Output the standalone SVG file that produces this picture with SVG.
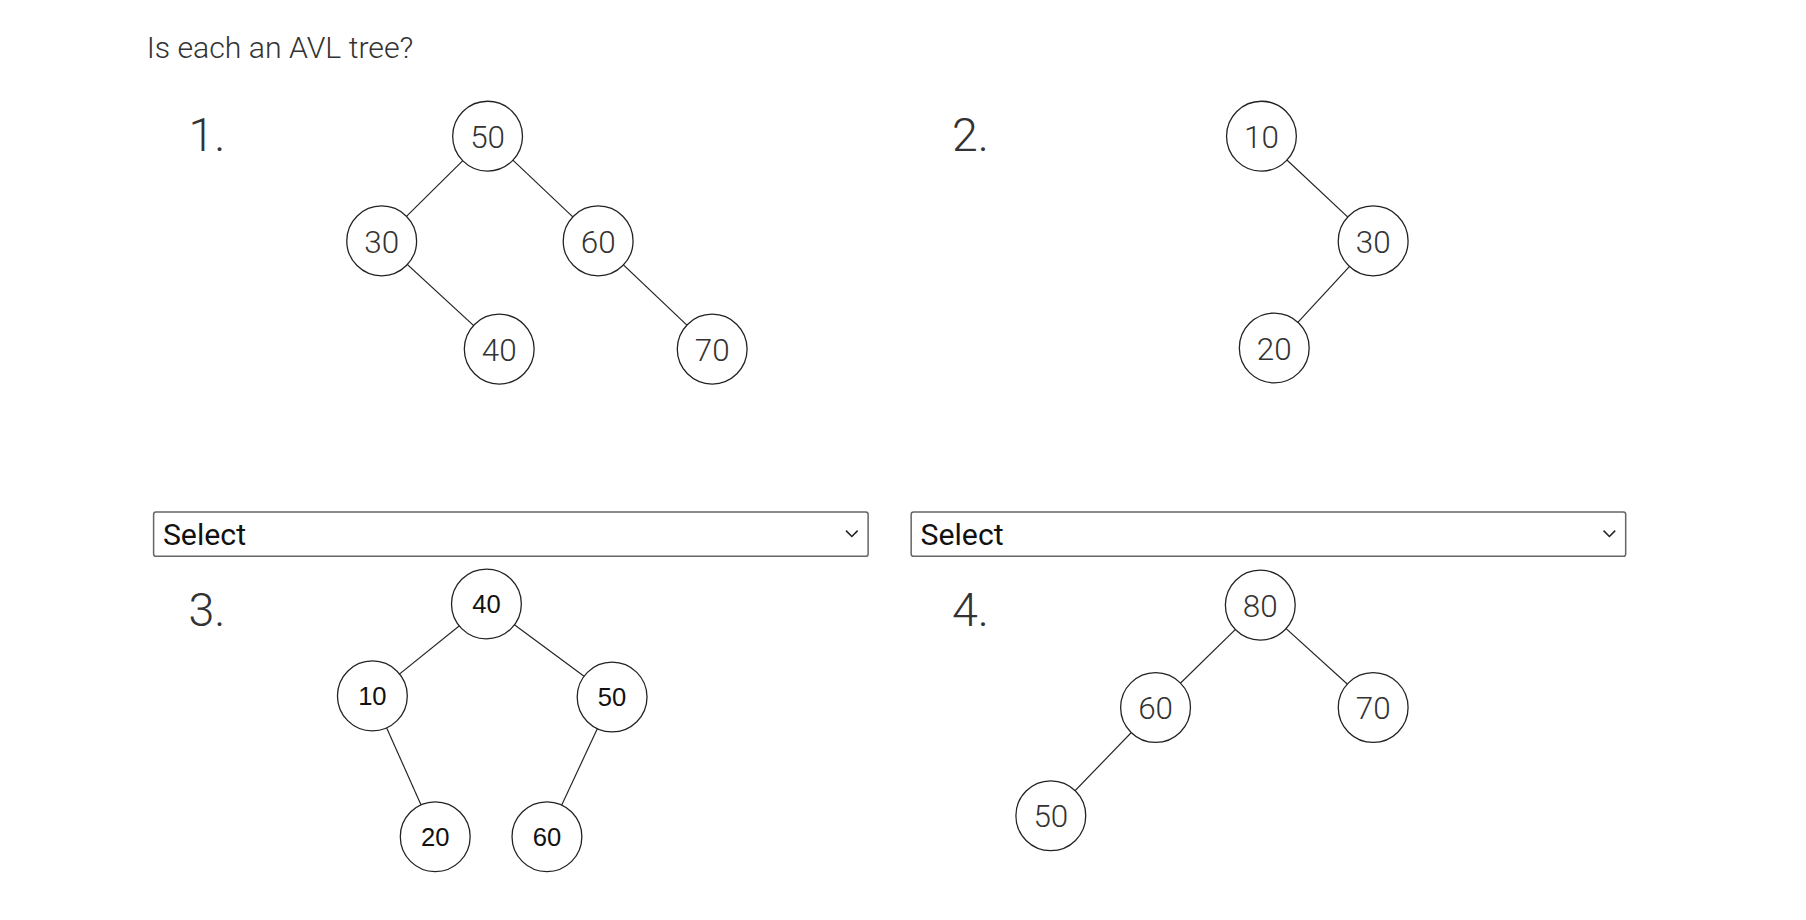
<svg xmlns="http://www.w3.org/2000/svg" width="1806" height="920" viewBox="0 0 1806 920">
<style>
.n circle{fill:#fff;stroke:#222;stroke-width:1.1}
.n text{font-family:Roboto,"Liberation Sans",sans-serif;font-weight:300;font-size:27px;fill:#333;text-anchor:middle}
.n.b text{font-family:"Liberation Sans",Arial,sans-serif;font-weight:400;font-size:22px;fill:#111}
.e line{stroke:#222;stroke-width:1}
.lbl{font-family:Roboto,"Liberation Sans",sans-serif;font-weight:300;font-size:40px;fill:#333}
.sel rect{fill:#fff;stroke:#666;stroke-width:1.3}
.sel text{font-family:Roboto,"Liberation Sans",sans-serif;font-size:26px;fill:#111}
.sel path{fill:none;stroke:#222;stroke-width:1.3}
</style>
<rect width="1806" height="920" fill="#fff"/>
<g transform="scale(1.1637)">
<text x="126" y="50" font-family="Roboto,'Liberation Sans',sans-serif" font-weight="300" font-size="26" fill="#333">Is each an AVL tree?</text>
<text class="lbl" x="162" y="130">1.</text>
<text class="lbl" x="818" y="130">2.</text>
<text class="lbl" x="162" y="538">3.</text>
<text class="lbl" x="818" y="538">4.</text>
<g id="connectors" class="e">
<line x1="419" y1="117" x2="328" y2="207"/><line x1="419" y1="117" x2="514" y2="207"/>
<line x1="328" y1="207" x2="429" y2="300"/><line x1="514" y1="207" x2="612" y2="300"/>
<line x1="1084" y1="117" x2="1180" y2="207"/><line x1="1180" y1="207" x2="1095" y2="299"/>
<line x1="418" y1="519" x2="320" y2="598"/><line x1="418" y1="519" x2="526" y2="599"/>
<line x1="320" y1="598" x2="374" y2="719"/><line x1="526" y1="599" x2="470" y2="719"/>
<line x1="1083" y1="520" x2="993" y2="608"/><line x1="1083" y1="520" x2="1180" y2="608"/>
<line x1="993" y1="608" x2="903" y2="701"/>
</g>
<g id="t1n50" class="n"><circle cx="419" cy="117" r="30"/><text x="419" y="127">50</text></g>
<g id="t1n30" class="n"><circle cx="328" cy="207" r="30"/><text x="328" y="217">30</text></g>
<g id="t1n60" class="n"><circle cx="514" cy="207" r="30"/><text x="514" y="217">60</text></g>
<g id="t1n40" class="n"><circle cx="429" cy="300" r="30"/><text x="429" y="310">40</text></g>
<g id="t1n70" class="n"><circle cx="612" cy="300" r="30"/><text x="612" y="310">70</text></g>
<g id="t2n10" class="n"><circle cx="1084" cy="117" r="30"/><text x="1084" y="127">10</text></g>
<g id="t2n30" class="n"><circle cx="1180" cy="207" r="30"/><text x="1180" y="217">30</text></g>
<g id="t2n20" class="n"><circle cx="1095" cy="299" r="30"/><text x="1095" y="309">20</text></g>
<g id="sel1" class="sel"><rect x="132" y="440" width="614" height="38" rx="2"/><text x="140" y="468">Select</text><path d="M727 456l5 5 5-5"/></g>
<g id="sel2" class="sel"><rect x="783" y="440" width="614" height="38" rx="2"/><text x="791" y="468">Select</text><path d="M1378 456l5 5 5-5"/></g>
<g id="t3n40" class="n b"><circle cx="418" cy="519" r="30"/><text x="418" y="527">40</text></g>
<g id="t3n10" class="n b"><circle cx="320" cy="598" r="30"/><text x="320" y="606">10</text></g>
<g id="t3n50" class="n b"><circle cx="526" cy="599" r="30"/><text x="526" y="607">50</text></g>
<g id="t3n20" class="n b"><circle cx="374" cy="719" r="30"/><text x="374" y="727">20</text></g>
<g id="t3n60" class="n b"><circle cx="470" cy="719" r="30"/><text x="470" y="727">60</text></g>
<g id="t4n80" class="n"><circle cx="1083" cy="520" r="30"/><text x="1083" y="530">80</text></g>
<g id="t4n60" class="n"><circle cx="993" cy="608" r="30"/><text x="993" y="618">60</text></g>
<g id="t4n70" class="n"><circle cx="1180" cy="608" r="30"/><text x="1180" y="618">70</text></g>
<g id="t4n50" class="n"><circle cx="903" cy="701" r="30"/><text x="903" y="711">50</text></g>
</g>
</svg>
